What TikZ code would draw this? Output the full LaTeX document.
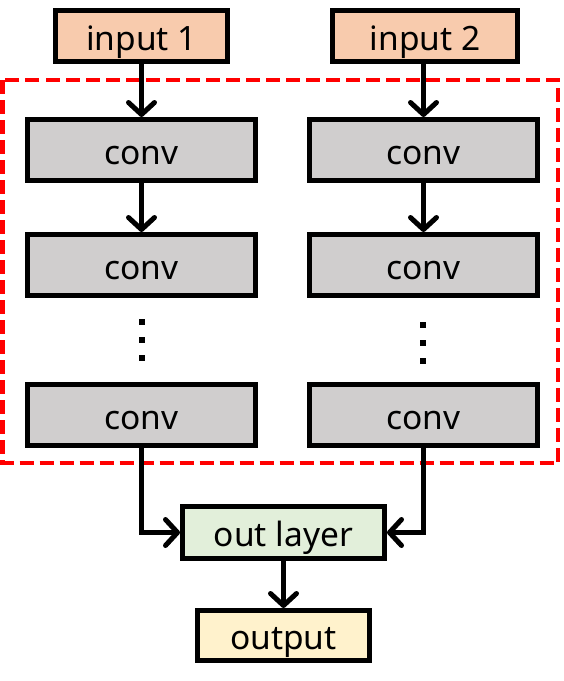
\documentclass[tikz,border=0pt]{standalone}
\usepackage{fontspec}
\setmainfont{Noto Sans}
\usetikzlibrary{arrows.meta}
\definecolor{inpeach}{HTML}{F8CBAD}
\definecolor{convgray}{HTML}{D0CECE}
\definecolor{outgreen}{HTML}{E2EFDA}
\definecolor{outyellow}{HTML}{FFF2CC}
\tikzset{
  box/.style={draw=black, line width=5pt, inner sep=0pt, text height=36pt, text depth=8pt, font=\fontsize{33.5}{38}\selectfont},
  inbox/.style={box, fill=inpeach, minimum height=51pt},
  convbox/.style={box, fill=convgray, minimum width=228pt, minimum height=61pt},
  conn/.style={line width=5pt, -{Straight Barb[length=12pt,width=26pt,line cap=round,line join=round]}},
  dotsq/.style={fill=black, minimum size=5.5pt, inner sep=0pt}
}
\begin{document}
\begin{tikzpicture}[x=1pt,y=-1pt]
\useasboundingbox (0,0) rectangle (564,681);
\draw[red, line width=4.5pt, dash pattern=on 14pt off 6pt] (2.5,80) rectangle (558,463);
\node[inbox, minimum width=172pt] (in1) at (141.5,36) {input 1};
\node[inbox, minimum width=185pt] (in2) at (425,36) {input 2};
\node[convbox] (c11) at (141.5,150) {conv};
\node[convbox] (c21) at (423.5,150) {conv};
\node[convbox] (c12) at (141.5,265) {conv};
\node[convbox] (c22) at (423.5,265) {conv};
\node[convbox] (c13) at (141.5,415) {conv};
\node[convbox] (c23) at (423.5,415) {conv};
\node[dotsq] (d1a) at (142,322) {};
\node[dotsq] (d1b) at (142,340) {};
\node[dotsq] (d1c) at (142,358) {};
\node[dotsq] (d2a) at (423,325) {};
\node[dotsq] (d2b) at (423,343) {};
\node[dotsq] (d2c) at (423,361) {};
\node[box, fill=outgreen, minimum width=202pt, minimum height=52pt] (ol) at (283.5,532.5) {out layer};
\node[box, fill=outyellow, minimum width=172pt, minimum height=50pt] (out) at (283.5,635.5) {output};
\draw[conn] (in1.south) -- (c11.north);
\draw[conn] (in2.south -| c21.north) -- (c21.north);
\draw[conn] (c11.south) -- (c12.north);
\draw[conn] (c21.south) -- (c22.north);
\draw[conn] (c13.south) |- (ol.west);
\draw[conn] (c23.south) |- (ol.east);
\draw[conn] (ol.south) -- (out.north);
\end{tikzpicture}
\end{document}
